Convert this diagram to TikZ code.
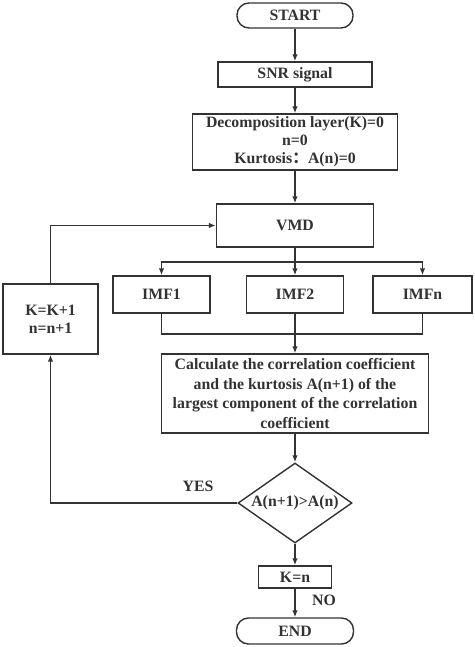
\documentclass[tikz,border=0pt]{standalone}
\usepackage{fontspec}
\setmainfont{Liberation Serif}
\newfontfamily\cjk{Noto Sans CJK SC}
\usetikzlibrary{arrows.meta,positioning,shapes.geometric}
\definecolor{ink}{RGB}{50,50,50}
\tikzset{
  block/.style={
    draw=ink,
    line width=1.4pt,
    text=ink,
    align=center,
    inner sep=2pt,
    font=\fontsize{15.8}{19.4}\selectfont\bfseries
  },
  terminal/.style={block, rounded corners=12pt},
  decision/.style={block, diamond, shape aspect=1.425, inner sep=-10pt},
  arrow/.style={-{Latex[length=7pt,width=5.5pt]}, line width=1.4pt, draw=ink},
  link/.style={line width=1.4pt, draw=ink},
  tag/.style={text=ink, font=\fontsize{15.8}{17}\selectfont\bfseries},
}

\begin{document}
\begin{tikzpicture}[x=1pt,y=-1pt]
\useasboundingbox (0,0) rectangle (474,647);

\node[terminal, minimum width=116pt, minimum height=25pt] (start) at (295,15.5) {START};
\node[block, minimum width=154pt, minimum height=25pt] (snr) at (295,74.5) {SNR signal};
\node[block, minimum width=205pt, minimum height=56pt] (init) at (295,142) {
  Decomposition layer(K)=0\\[-1.5pt]
  n=0\\[-1.5pt]
  Kurtosis{\cjk ：}A(n)=0
};
\node[block, minimum width=157pt, minimum height=43pt] (vmd) at (295,225.5) {VMD};

\node[block, minimum width=97pt, minimum height=37pt] (imf1) at (161.5,294.5) {IMF1};
\node[block, minimum width=97pt, minimum height=37pt] (imf2) at (295,294.5) {IMF2};
\node[block, minimum width=99pt, minimum height=37pt] (imfn) at (422.5,294.5) {IMFn};

\node[block, minimum width=95pt, minimum height=70pt] (update) at (50.5,319) {
  K=K+1\\[-1.5pt]
  n=n+1
};

\node[block, minimum width=267pt, minimum height=79pt] (calc) at (295,393.5) {
  Calculate the correlation coefficient\\
  and the kurtosis A(n+1) of the\\
  largest component of the correlation\\
  coefficient
};

\node[decision, minimum width=114pt, minimum height=80pt] (cond) at (295,503) {A(n+1)>A(n)};
\node[block, minimum width=73pt, minimum height=22pt] (keep) at (295,577) {K=n};
\node[terminal, minimum width=117pt, minimum height=26pt] (end) at (295,631) {END};

\coordinate (split) at (295,262);
\coordinate (merge) at (295,334);

\draw[arrow] (start.south) -- (snr.north);
\draw[arrow] (snr.south) -- (init.north);
\draw[arrow] (init.south) -- (vmd.north);

\draw[link] (vmd.south) -- (split);
\draw[arrow] (split) -| (imf1.north);
\draw[arrow] (split) -- (imf2.north);
\draw[arrow] (split) -| (imfn.north);

\draw[link] (imf1.south) |- (merge);
\draw[link] (imfn.south) |- (merge);
\draw[link] (imf2.south) -- (merge);
\draw[arrow] (merge) -- (calc.north);

\draw[arrow] (calc.south) -- (cond.north);
\draw[arrow] (cond.west) -| (update.south);
\draw[arrow] (update.north) |- (vmd.west);

\draw[arrow] (cond.south) -- (keep.north);
\draw[arrow] (keep.south) -- (end.north);

\node[tag] (yes) at (198,486) {YES};
\node[tag] (no) at (324,600) {NO};

\end{tikzpicture}
\end{document}
